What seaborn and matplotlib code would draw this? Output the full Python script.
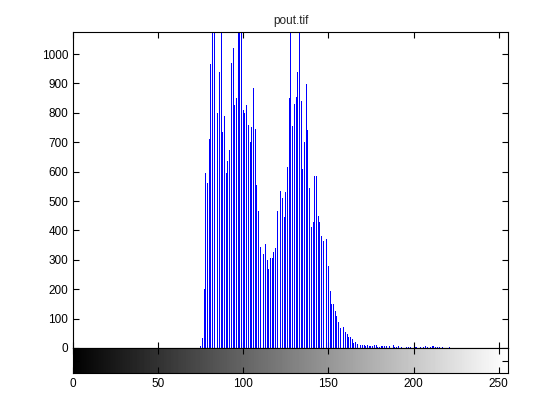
import numpy as np
import pandas as pd
import matplotlib
matplotlib.use("Agg")
import matplotlib.pyplot as plt
import seaborn as sns

# ---- data ----
title = "pout.tif"
first_bin = 74
counts = [
    0, 8, 35, 200, 595, 560, 710, 965, 1250, 1300,            # 74-83
    1200, 800, 940, 1150, 735, 790, 595, 635, 675, 970,        # 84-93
    1020, 825, 850, 1150, 1250, 1120, 810, 798, 828, 760,      # 94-103
    700, 752, 884, 745, 555, 465, 345, 325, 320, 355,          # 104-113
    300, 270, 305, 305, 325, 340, 465, 670, 535, 510,          # 114-123
    445, 530, 615, 850, 1400, 755, 830, 855, 940, 1200,        # 124-133
    840, 608, 700, 897, 742, 545, 412, 430, 585, 585,          # 134-143
    450, 430, 380, 365, 325, 370, 280, 195, 150, 150,          # 144-153
    126, 109, 88, 68, 75, 71, 54, 48, 37, 37,                  # 154-163
    31, 17, 22, 14, 10, 10, 9, 10, 8, 10,                      # 164-173
    8, 6, 7, 9, 10, 5, 3, 6, 6, 6,                             # 174-183
    6, 5, 6, 0, 10, 3, 3, 6, 0, 3,                             # 184-193
    0, 3, 3, 3, 3, 0, 0, 4, 4, 0,                              # 194-203
    3, 0, 3, 6, 3, 0, 3, 7, 7, 3,                              # 204-213
    3, 3, 0, 3, 0, 0, 0, 3, 0, 0,                              # 214-223
]
bins = list(range(first_bin, first_bin + len(counts)))
x_ticks = [0, 50, 100, 150, 200, 250]
y_ticks = list(range(0, 1001, 100))
x_limits = (0, 255.5)
y_limits = (0, 1075)

df = pd.DataFrame({"bin": bins, "count": counts})

sns.set_style("ticks")
plt.rcParams["font.family"] = ["Liberation Sans", "DejaVu Sans"]
plt.rcParams["font.size"] = 8.5

fig = plt.figure(figsize=(5.6, 4.2), dpi=100)
fig.patch.set_facecolor("white")

W, H = 560, 420
def box(l, t, r, b):
    return [l / W, 1 - b / H, (r - l) / W, (b - t) / H]

ax = fig.add_axes(box(73, 32, 508, 348))
cax = fig.add_axes(box(73, 348, 508, 373))

sns.barplot(data=df, x="bin", y="count", native_scale=True, width=0.55,
            color="#0000ff", saturation=1, linewidth=0, ax=ax, errorbar=None)
for p in ax.patches:
    p.set_antialiased(False)

ax.set_xlim(*x_limits)
ax.set_ylim(*y_limits)
ax.set_yticks(y_ticks)
ax.set_xticks(x_ticks)
ax.set_xticklabels([])
ax.set_xlabel("")
ax.set_ylabel("")
ax.set_title(title, fontsize=8.5, pad=6)
ax.tick_params(direction="in", length=4, width=0.8, top=True, right=True,
               labelsize=8.5, colors="black")
for s in ax.spines.values():
    s.set_visible(True)
    s.set_linewidth(0.8)
    s.set_color("black")
ax.set_facecolor("white")

# grey ramp colour bar under the histogram
ramp = np.arange(256).reshape(1, -1)
cax.imshow(ramp, cmap="gray", aspect="auto", extent=(-0.5, 255.5, 0, 1),
           vmin=0, vmax=255, interpolation="nearest")
cax.set_xlim(*x_limits)
cax.set_ylim(0, 1)
cax.set_xticks(x_ticks)
cax.set_yticks([0.5])
cax.set_yticklabels([])
cax.tick_params(direction="in", length=4, width=0.8, top=True, right=True,
                labelsize=8.5, colors="black")
for s in cax.spines.values():
    s.set_visible(True)
    s.set_linewidth(0.8)
    s.set_color("black")

fig.savefig("out.png", dpi=100, facecolor="white")
